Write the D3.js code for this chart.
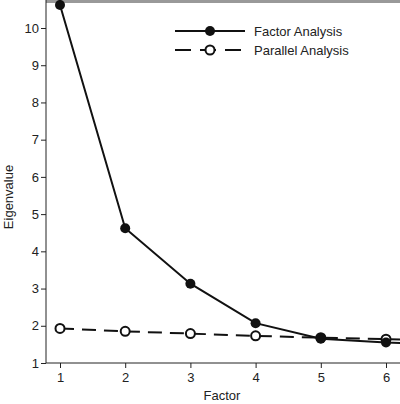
<!DOCTYPE html><html><head><script src="https://cdn.jsdelivr.net/npm/d3@7"></script>
<style>body{margin:0;background:#fff}text{font-family:"Liberation Sans",Arial,sans-serif;fill:#222}</style></head><body>
<svg id="c" width="400" height="404"></svg>
<script>
const factors=[1,2,3,4,5,6,7];
const factorAnalysis=[10.62,4.62,3.13,2.07,1.65,1.55,1.5];
const parallelAnalysis=[1.93,1.85,1.79,1.73,1.68,1.64,1.6];
const yTicks=[1,2,3,4,5,6,7,8,9,10];
const xTicks=[1,2,3,4,5,6];
const svg=d3.select("#c");
const x=d3.scaleLinear().domain([1,6]).range([60,386]);
const y=d3.scaleLinear().domain([1,10]).range([363,28]);
svg.append("defs").append("clipPath").attr("id","cl").append("rect").attr("x",46).attr("y",0).attr("width",354).attr("height",363);
svg.append("rect").attr("x",46).attr("y",0).attr("width",354).attr("height",3).attr("fill","#999");
const ya=svg.append("g").attr("transform","translate(46,0)").call(d3.axisLeft(y).tickValues(yTicks).tickFormat(d3.format("d")).tickSize(5).tickSizeOuter(0));
ya.select(".domain").attr("d","M0,363V0");
const xa=svg.append("g").attr("transform","translate(0,363)").call(d3.axisBottom(x).tickValues(xTicks).tickFormat(d3.format("d")).tickSize(5).tickSizeOuter(0));
xa.select(".domain").attr("d","M46,0H400");
svg.selectAll("g").attr("font-family",null).attr("font-size",null);
svg.selectAll(".tick text").attr("font-size",13).style("font-size","13px").attr("fill","#222");
ya.selectAll(".tick text").attr("x",-7);
xa.selectAll(".tick text").attr("y",10);
svg.selectAll(".domain,.tick line").attr("stroke","#222");
svg.append("text").attr("x",222).attr("y",400).attr("text-anchor","middle").style("font-size","13px").text("Factor");
svg.append("text").attr("transform","translate(13,197) rotate(-90)").attr("text-anchor","middle").style("font-size","13px").text("Eigenvalue");
const g=svg.append("g").attr("clip-path","url(#cl)");
const line=d3.line().x((d,i)=>x(factors[i])).y(d=>y(d));
g.append("path").attr("d",line(parallelAnalysis)).attr("fill","none").attr("stroke","#111").attr("stroke-width",2).attr("stroke-dasharray","14,8");
g.append("path").attr("d",line(factorAnalysis)).attr("fill","none").attr("stroke","#111").attr("stroke-width",2);
g.selectAll(".p").data(parallelAnalysis).enter().append("circle").attr("cx",(d,i)=>x(factors[i])).attr("cy",d=>y(d)).attr("r",4.5).attr("fill","#fff").attr("stroke","#111").attr("stroke-width",2);
g.selectAll(".f").data(factorAnalysis).enter().append("circle").attr("cx",(d,i)=>x(factors[i])).attr("cy",d=>y(d)).attr("r",5).attr("fill","#111");
const lg=svg.append("g");
lg.append("line").attr("x1",175).attr("x2",245).attr("y1",31).attr("y2",31).attr("stroke","#111").attr("stroke-width",2);
lg.append("circle").attr("cx",210).attr("cy",31).attr("r",5).attr("fill","#111");
lg.append("line").attr("x1",175).attr("x2",245).attr("y1",50).attr("y2",50).attr("stroke","#111").attr("stroke-width",2).attr("stroke-dasharray","16,9");
lg.append("circle").attr("cx",210).attr("cy",50).attr("r",4.5).attr("fill","#fff").attr("stroke","#111").attr("stroke-width",2);
lg.append("text").attr("x",254).attr("y",36).style("font-size","13px").text("Factor Analysis");
lg.append("text").attr("x",254).attr("y",55).style("font-size","13px").text("Parallel Analysis");
</script></body></html>
